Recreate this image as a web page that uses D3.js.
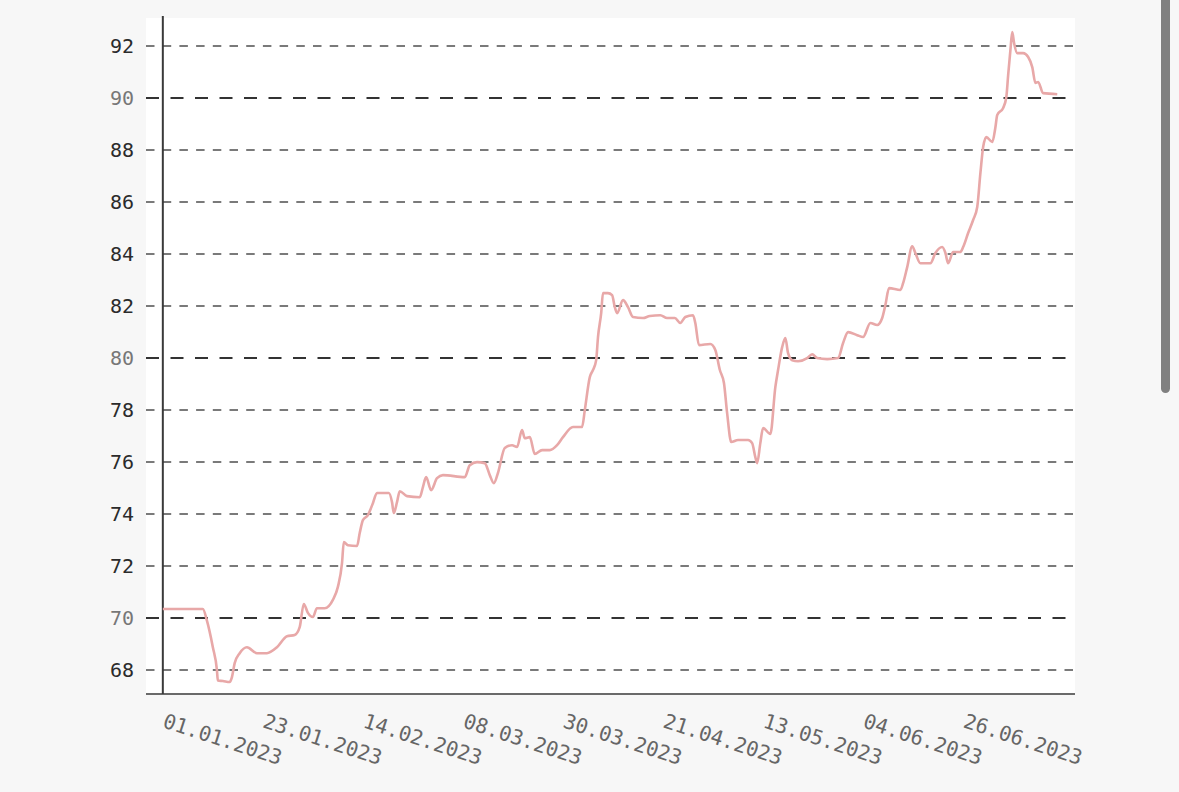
<!DOCTYPE html>
<html>
<head>
<meta charset="utf-8">
<script src="https://cdn.jsdelivr.net/npm/d3@7"></script>
<style>
    html, body { margin: 0; padding: 0; background: #f7f7f7; overflow: hidden; }
    #chart { display: block; }
    .scrollbar { position: fixed; left: 1161px; top: -10px; width: 9px; height: 403px; background: #808080; border-radius: 5px; }
    text { font-family: "DejaVu Sans Mono", monospace; }
</style>
</head>
<body>
<svg id="chart"></svg>
<div class="scrollbar"></div>
<script>
const width = 1179,
    height = 792;

const plot = {left: 146, right: 1075, top: 18, bottom: 694};

// days after 01.01.2023 and the rate on that day
const dayOffsets = [
    0.0, 8.8, 9.7, 11.0, 11.9, 12.1, 13.2, 14.7, 15.2, 15.8, 16.9, 18.5, 20.7, 22.9, 25.1, 27.3, 29.0, 30.1,
    31.0, 31.9, 33.0, 33.9, 35.6, 37.4, 38.5, 39.4, 39.8, 40.7, 42.7, 43.3, 44.0, 45.1, 46.2, 47.1, 49.7,
    50.4, 50.8, 51.5, 52.1, 53.7, 56.5, 57.2, 57.9, 59.0, 60.3, 61.6, 66.4, 67.5, 69.1, 70.8, 71.9, 72.8,
    73.7, 75.2, 76.8, 77.9, 79.0, 79.6, 80.7, 81.8, 83.4, 85.1, 86.7, 88.0, 90.2, 92.2, 92.8, 93.9, 94.6,
    95.3, 95.7, 96.4, 96.8, 97.9, 98.8, 99.4, 99.9, 101.2, 102.3, 103.4, 105.6, 107.1, 109.4, 110.9, 112.6,
    113.8, 114.9, 116.6, 117.1, 117.9, 120.4, 121.5, 122.5, 123.4, 124.1, 125.0, 126.5, 128.7, 129.6, 130.3,
    130.7, 131.4, 132.0, 133.6, 134.7, 135.3, 136.2, 136.9, 137.5, 138.4, 139.7, 141.7, 142.8, 143.9, 146.1,
    148.5, 149.6, 150.7, 152.7, 154.0, 155.6, 157.1, 158.2, 158.9, 159.7, 162.2, 162.8, 163.7, 164.8, 165.5,
    166.6, 168.8, 169.9, 171.4, 172.1, 172.7, 173.8, 175.4, 176.0, 177.1, 178.2, 179.1, 179.8, 180.4, 181.1,
    182.4, 183.1, 183.5, 184.8, 185.5, 185.9, 186.4, 186.8, 187.2, 187.9, 189.2, 190.3, 191.2, 191.9, 192.5,
    193.6, 196.7
];

const rates = [
    70.35, 70.35, 69.90, 68.88, 68.00, 67.60, 67.58, 67.54, 67.73, 68.27, 68.65, 68.88, 68.65, 68.65, 68.88, 69.30, 69.35, 69.65,
    70.54, 70.20, 70.04, 70.38, 70.38, 70.70, 71.20, 72.10, 72.92, 72.80, 72.77, 73.27, 73.77, 73.96, 74.42, 74.81, 74.81,
    74.46, 74.04, 74.46, 74.88, 74.69, 74.65, 75.04, 75.42, 74.92, 75.38, 75.50, 75.42, 75.88, 76.00, 75.96, 75.50, 75.19,
    75.58, 76.54, 76.65, 76.58, 77.23, 76.92, 76.96, 76.31, 76.46, 76.46, 76.65, 76.96, 77.35, 77.35, 78.00, 79.27, 79.54,
    79.92, 80.81, 81.73, 82.50, 82.50, 82.42, 81.96, 81.73, 82.23, 81.96, 81.58, 81.54, 81.62, 81.65, 81.54, 81.54,
    81.35, 81.58, 81.65, 81.35, 80.50, 80.54, 80.31, 79.54, 79.04, 77.88, 76.77, 76.85, 76.85, 76.73, 76.19,
    75.96, 76.73, 77.31, 77.08, 78.88, 79.54, 80.42, 80.77, 80.19, 79.92, 79.88, 80.00, 80.15, 80.00, 79.96,
    80.00, 80.58, 81.00, 80.88, 80.81, 81.35, 81.27, 81.54, 82.04, 82.69, 82.62, 82.88, 83.50, 84.30, 84.04,
    83.65, 83.65, 84.04, 84.27, 84.04, 83.65, 84.08, 84.08, 84.27, 84.81, 85.31, 85.81, 87.12, 88.12, 88.50,
    88.31, 88.88, 89.35, 89.62, 90.04, 90.88, 91.85, 92.54, 92.12, 91.73, 91.73, 91.58, 91.19, 90.58, 90.62,
    90.19, 90.15
];

const tickDates = ["2023-01-01", "2023-01-23", "2023-02-14", "2023-03-08", "2023-03-30",
    "2023-04-21", "2023-05-13", "2023-06-04", "2023-06-26"];
const yTicks = [68, 70, 72, 74, 76, 78, 80, 82, 84, 86, 88, 90, 92];
const majorTicks = [70, 80, 90];

const dayMs = 864e5;
const parseDate = d3.timeParse("%Y-%m-%d");
const startDate = parseDate("2023-01-01");
const fmt = d3.timeFormat("%d.%m.%Y");

let data = dayOffsets.map((d, i) => ({date: new Date(+startDate + d * dayMs), value: rates[i]}));

let svg = d3.select("#chart").attr("width", width).attr("height", height);

let x = d3.scaleTime()
    .domain([new Date(+startDate - 3.7 * dayMs), new Date(+startDate + 200.6 * dayMs)])
    .range([plot.left, plot.right]);

let y = d3.scaleLinear()
    .domain([67.08, 93.08])
    .range([plot.bottom, plot.top]);

// white plot background
svg.append("rect")
    .attr("x", plot.left)
    .attr("y", plot.top)
    .attr("width", plot.right - plot.left)
    .attr("height", plot.bottom - plot.top)
    .attr("fill", "#ffffff");

// horizontal gridlines
svg.append("g").selectAll("line").data(yTicks).enter().append("line")
    .attr("x1", plot.left)
    .attr("x2", plot.right)
    .attr("y1", d => y(d))
    .attr("y2", d => y(d))
    .attr("stroke", d => majorTicks.includes(d) ? "#333333" : "#7a7a7a")
    .attr("stroke-width", 2)
    .attr("stroke-dasharray", d => majorTicks.includes(d) ? "13,11.5" : "8.5,8.2");

// y tick labels
svg.append("g").selectAll("text").data(yTicks).enter().append("text")
    .attr("x", 134)
    .attr("y", d => y(d))
    .attr("dy", "0.36em")
    .attr("text-anchor", "end")
    .attr("font-size", 20)
    .attr("fill", d => majorTicks.includes(d) ? "#777777" : "#2b2b2b")
    .text(d => d);

// x axis line
svg.append("line")
    .attr("x1", plot.left)
    .attr("x2", plot.right)
    .attr("y1", plot.bottom)
    .attr("y2", plot.bottom)
    .attr("stroke", "#6a6a6a")
    .attr("stroke-width", 2);

// y axis line at the first date
svg.append("line")
    .attr("x1", x(startDate))
    .attr("x2", x(startDate))
    .attr("y1", plot.top - 2)
    .attr("y2", plot.bottom)
    .attr("stroke", "#3a3a3a")
    .attr("stroke-width", 2);

// x tick labels, rotated
svg.append("g").selectAll("text").data(tickDates.map(parseDate)).enter().append("text")
    .attr("transform", d => `translate(${x(d) - 1},${plot.bottom + 33}) rotate(18)`)
    .attr("text-anchor", "start")
    .attr("font-size", 20.5)
    .attr("fill", "#666666")
    .text(d => fmt(d));

let line = d3.line()
    .curve(d3.curveMonotoneX)
    .x(d => x(d.date))
    .y(d => y(d.value));

svg.append("path")
    .datum(data)
    .attr("d", line)
    .attr("fill", "none")
    .attr("stroke", "#e8a8a8")
    .attr("stroke-width", 2.6)
    .attr("stroke-linejoin", "round");
</script>
</body>
</html>
